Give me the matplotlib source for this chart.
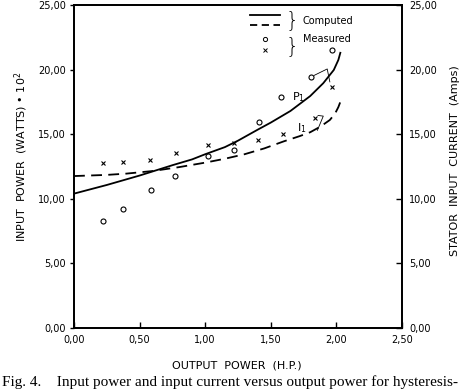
import matplotlib
matplotlib.use("Agg")
import matplotlib.pyplot as plt

# --- data (output power in H.P.) ---
# computed input power P1 (watts * 10^2), solid
p_calc_x = [0.00, 0.25, 0.50, 0.75, 0.90, 1.00, 1.15, 1.25, 1.40, 1.50,
            1.65, 1.80, 1.90, 1.98, 2.015, 2.03]
p_calc_y = [10.40, 11.07, 11.80, 12.60, 13.05, 13.45, 14.00, 14.50, 15.35,
            15.90, 16.80, 17.95, 18.95, 19.97, 20.75, 21.30]

# computed stator current I1 (amps), dashed
i_calc_x = [0.00, 0.25, 0.40, 0.60, 0.80, 1.00, 1.15, 1.30, 1.45, 1.60,
            1.72, 1.80, 1.88, 1.95, 1.99, 2.015, 2.03]
i_calc_y = [11.76, 11.85, 11.95, 12.15, 12.45, 12.80, 13.10, 13.45, 13.90,
            14.45, 14.85, 15.15, 15.60, 16.10, 16.60, 17.10, 17.50]

# measured input power (circles)
p_meas_x = [0.22, 0.37, 0.59, 0.77, 1.02, 1.22, 1.41, 1.58, 1.81, 1.97]
p_meas_y = [8.28, 9.23, 10.68, 11.79, 13.34, 13.78, 15.97, 17.86, 19.45, 21.50]

# measured stator current (x marks)
i_meas_x = [0.22, 0.37, 0.58, 0.78, 1.02, 1.22, 1.40, 1.59, 1.84, 1.97]
i_meas_y = [12.75, 12.87, 13.00, 13.52, 14.14, 14.30, 14.55, 15.00, 16.23, 18.68]

# little leader lines drawn by hand on the original
lead_p_x = [1.83, 1.93, 1.95]
lead_p_y = [19.55, 20.05, 19.05]
lead_i_x = [1.86, 1.90, 1.855]
lead_i_y = [16.45, 16.40, 15.30]

x_ticks = [0.0, 0.5, 1.0, 1.5, 2.0, 2.5]
y_ticks = [0, 5, 10, 15, 20, 25]


def fmt(v):
    return f"{v:.2f}".replace(".", ",")


fig = plt.figure(figsize=(4.74, 3.91), dpi=100)
ax = fig.add_axes([74 / 474, 1 - 328 / 391, 328 / 474, 323 / 391])

ax.plot(p_calc_x, p_calc_y, color="black", lw=1.3)
ax.plot(i_calc_x, i_calc_y, color="black", lw=1.3, dashes=(6, 3.5))
ax.plot(p_meas_x, p_meas_y, ls="none", marker="o", ms=3.6, mfc="white",
        mec="black", mew=0.8)
ax.plot(i_meas_x, i_meas_y, ls="none", marker="x", ms=2.6, color="black",
        mew=0.8)
ax.plot(lead_p_x, lead_p_y, color="black", lw=0.6)
ax.plot(lead_i_x, lead_i_y, color="black", lw=0.6)

ax.text(1.66, 17.9, r"P$_1$", fontsize=8, va="center")
ax.text(1.70, 15.45, r"I$_1$", fontsize=8, va="center")

# hand drawn legend at the top
t = ax.transAxes
ax.plot([0.537, 0.628], [0.969, 0.969], color="black", lw=1.3, transform=t)
ax.plot([0.537, 0.628], [0.938, 0.938], color="black", lw=1.3,
        dashes=(4, 2.5), transform=t)
ax.plot([0.582], [0.894], ls="none", marker="o", ms=3.0, mfc="white",
        mec="black", mew=0.7, transform=t)
ax.plot([0.582], [0.861], ls="none", marker="x", ms=2.2, color="black",
        mew=0.7, transform=t)
ax.text(0.664, 0.952, "}", fontsize=15, va="center", ha="center",
        transform=t, fontweight="light")
ax.text(0.664, 0.874, "}", fontsize=15, va="center", ha="center",
        transform=t, fontweight="light")
ax.text(0.698, 0.950, "Computed", fontsize=7, va="center", transform=t)
ax.text(0.698, 0.894, "Measured", fontsize=7, va="center", transform=t)

ax.set_xlim(0, 2.5)
ax.set_ylim(0, 25)
ax.set_xticks(x_ticks)
ax.set_xticklabels([fmt(v) for v in x_ticks])
ax.set_yticks(y_ticks)
ax.set_yticklabels([fmt(v) for v in y_ticks])
ax.tick_params(axis="x", direction="in", length=4, width=1, labelsize=7,
               pad=5)
ax.tick_params(axis="y", direction="out", length=3, width=1, labelsize=7,
               pad=3)

ax2 = ax.twinx()
ax2.set_ylim(0, 25)
ax2.set_yticks(y_ticks)
ax2.set_yticklabels([fmt(v) for v in y_ticks])
ax2.tick_params(axis="y", direction="in", length=4, width=1, labelsize=7,
                pad=5)

for a in (ax, ax2):
    for s in a.spines.values():
        s.set_linewidth(1.3)

fig.text(237 / 474, 1 - 365 / 391, "OUTPUT  POWER  (H.P.)", fontsize=8,
         ha="center", va="center")
fig.text(21 / 474, 1 - 157 / 391, "INPUT  POWER  (WATTS) \u2022 10$^2$",
         fontsize=8, ha="center", va="center", rotation=90)
fig.text(455 / 474, 1 - 161 / 391, "STATOR  INPUT  CURRENT  (Amps)",
         fontsize=8, ha="center", va="center", rotation=90)

# caption along the bottom edge
fig.text(0.004, 1 - 386 / 391,
         "Fig. 4.    Input power and input current versus output power for hysteresis-",
         fontsize=11.0, family="Liberation Serif", ha="left", va="baseline")

fig.savefig("out.png", dpi=100)
